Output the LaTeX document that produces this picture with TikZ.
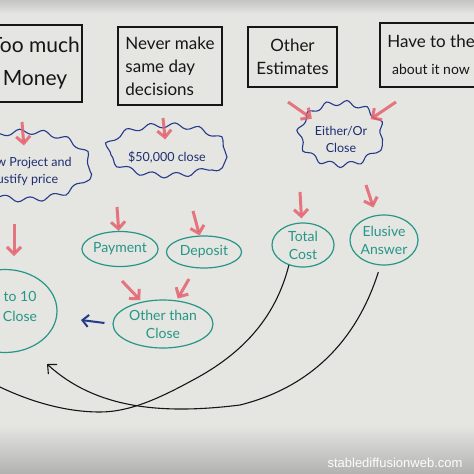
\documentclass[tikz,border=0pt]{standalone}
\usepackage{fontspec}
\setmainfont{Lato}
\newfontfamily\wmfont{Liberation Sans}
\usetikzlibrary{arrows.meta,decorations.pathmorphing,shapes.geometric,calc}
\definecolor{board}{RGB}{229,229,226}
\definecolor{boardtop}{RGB}{196,196,194}
\definecolor{boardbot}{RGB}{178,178,176}
\definecolor{markred}{RGB}{228,98,110}
\definecolor{markblue}{RGB}{38,58,140}
\definecolor{markgreen}{RGB}{38,150,135}
\definecolor{ink}{RGB}{22,22,22}
\begin{document}
\begin{tikzpicture}[x=1pt,y=-1pt,
  boxnode/.style={draw=ink, line width=1.6pt, inner sep=0pt, font=\fontsize{17}{23}\selectfont, text=ink},
  cloudnode/.style={draw=markblue, line width=1.1pt, ellipse, inner sep=0pt, decorate,
     decoration={snake, amplitude=2.6pt, segment length=24pt}, text=markblue!80!black,
     align=center, font=\fontsize{12.5}{17}\selectfont},
  ovalnode/.style={draw=markgreen, line width=1.2pt, ellipse, inner sep=0pt, text=markgreen,
     align=center, font=\fontsize{14}{18}\selectfont},
  redarrow/.style={draw=markred, line width=3pt, opacity=0.85, -{Straight Barb[length=7pt,width=14pt]}},
  bluearrow/.style={draw=markblue, line width=2pt, -{Straight Barb[length=6pt,width=12pt]}},
  curve/.style={draw=ink, line width=1.1pt},
]
\useasboundingbox (0,0) rectangle (474,474);
\clip (0,0) rectangle (474,474);
\fill[board] (0,0) rectangle (474,474);
\shade[top color=boardtop, bottom color=board] (0,0) rectangle (474,14);
\shade[top color=board, bottom color=boardbot] (0,425) rectangle (474,474);

% header boxes
\node[boxnode, minimum width=94pt, minimum height=77pt, align=center, font=\fontsize{21}{33}\selectfont] (b1) at (35,63.5) {Too much\\Money};
\node[boxnode, minimum width=104pt, minimum height=78pt, align=left] (b2) at (170,66) {Never make\\same day\\decisions};
\node[boxnode, minimum width=89pt, minimum height=60pt, align=center] (b3) at (292.5,57) {Other\\Estimates};
\node[boxnode, minimum width=102pt, minimum height=64pt, align=center] (b4) at (431,55)
  {Have to the\\[4pt]{\fontsize{14}{16}\selectfont about it now}};

% clouds
\node[cloudnode, minimum width=110pt, minimum height=68pt] (c1) at (26,172) {New Project and\\justify price};
\node[cloudnode, minimum width=120pt, minimum height=50pt] (c2) at (167,157) {\$50,000 close};
\node[cloudnode, minimum width=83pt, minimum height=62pt, decoration={snake, amplitude=2.6pt, segment length=20pt}] (c3) at (341,139) {Either/Or\\Close};

% green ovals
\node[ovalnode, minimum width=75pt, minimum height=35pt] (pay) at (120,249) {Payment};
\node[ovalnode, minimum width=75pt, minimum height=32pt] (dep) at (204,252) {Deposit};
\node[ovalnode, minimum width=62pt, minimum height=44pt] (tot) at (303,245) {Total\\Cost};
\node[ovalnode, minimum width=68pt, minimum height=50pt] (elu) at (384,240) {Elusive\\Answer};
\node[ovalnode, minimum width=104pt, minimum height=83pt] (ten) at (5,311) {};
\node[text=markgreen, align=center, font=\fontsize{14}{20}\selectfont] (tentext) at (20,306) {to 10\\Close};
\node[ovalnode, minimum width=100pt, minimum height=48pt] (oth) at (163,324) {Other than\\Close};

% red arrows
\coordinate (r1) at (22,122);
\coordinate (r2) at (163,118);
\coordinate (r3) at (288,102);
\coordinate (r4) at (396,102);
\coordinate (r5) at (117,207);
\coordinate (r6) at (193,211);
\coordinate (r7) at (14,224);
\coordinate (r7e) at (14,256);
\coordinate (r8) at (300,192);
\coordinate (r9) at (366,185);
\coordinate (r10) at (122,281);
\coordinate (r11) at (189,279);
\draw[redarrow, shorten >=-8pt] (r1) -- (c1);
\draw[redarrow, shorten >=-8pt] (r2) -- (c2);
\draw[redarrow, shorten >=-2pt] (r3) -- (c3);
\draw[redarrow, shorten >=-2pt] (r4) -- (c3);
\draw[redarrow] (r5) -- (pay);
\draw[redarrow] (r6) -- (dep);
\draw[redarrow] (r7) -- (r7e);
\draw[redarrow, shorten >=4pt] (r8) -- (tot);
\draw[redarrow, shorten >=8pt] (r9) -- (elu);
\draw[redarrow, shorten >=2pt] (r10) -- (oth);
\draw[redarrow, shorten >=2pt] (r11) -- (oth);

% blue arrow
\coordinate (bt) at (81,320);
\draw[bluearrow, shorten <=8pt] (oth.west) -- (bt);

% black curves
\coordinate (aend) at (-12,381);
\draw[curve] (tot.235) .. controls (275,320) and (240,355) .. (193,380)
  .. controls (160,398) and (130,412) .. (100,412)
  .. controls (60,412) and (20,398) .. (aend);
\coordinate (bend) at (47,364);
\draw[curve, shorten <=7pt, -{Straight Barb[length=7pt,width=13pt]}] (elu.262) .. controls (360,330) and (320,385) .. (240,405)
  .. controls (160,415) and (95,408) .. (bend);

% watermark
\node[text=white!92!board, font=\wmfont\fontsize{13}{15}\selectfont] (wm) at (395,463) {stablediffusionweb.com};
\end{tikzpicture}
\end{document}
